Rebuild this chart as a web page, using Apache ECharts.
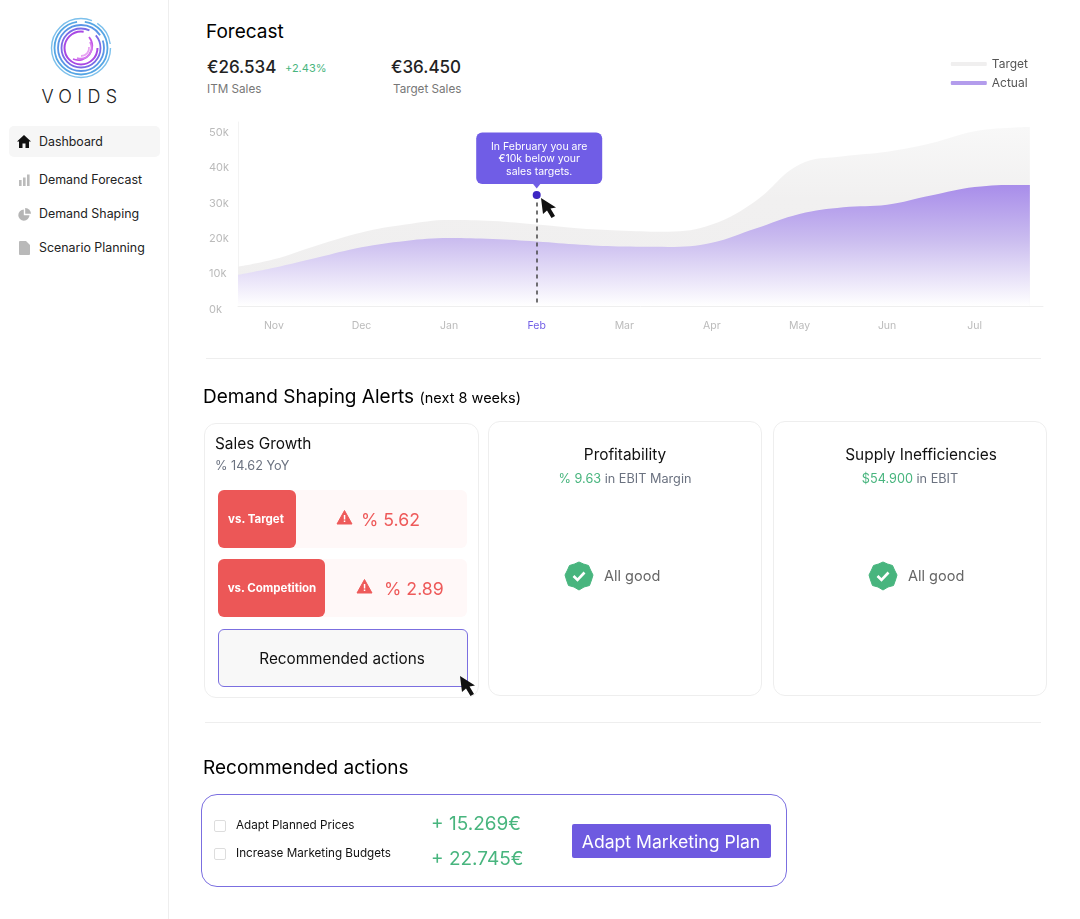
<!DOCTYPE html>
<html>
<head>
<meta charset="utf-8">
<title>Voids dashboard</title>
<script src="https://cdn.jsdelivr.net/npm/echarts@6/dist/echarts.min.js"></script>
<style>
html, body { margin: 0; padding: 0; background: #fff; }
body { width: 1080px; height: 919px; position: relative; overflow: hidden; font-family: Inter, "Noto Sans", sans-serif; color: #111; }
#chart { position: absolute; left: 0; top: 0; width: 1080px; height: 919px; }
.t { position: absolute; white-space: nowrap; transform: translateY(calc(-50% + 1px)); line-height: 1.2; }
.c { transform: translate(-50%, calc(-50% + 1px)); }
.box { position: absolute; box-sizing: border-box; }
.ico { position: absolute; overflow: visible; }
.h1 { font-size: 19px; color: #000; }
.nav { font-size: 12.4px; left: 39px; color: #222; }
.sub { font-size: 12.7px; color: #6b7280; }
.grey { font-size: 11.7px; color: #777; }
.big { font-size: 17px; font-weight: 500; color: #222; }
.card { border: 1px solid #eeeeee; border-radius: 12px; }
.pale { background: #fff8f8; border-radius: 6px; left: 218px; width: 249px; height: 58px; }
.red { background: #ec5757; border-radius: 6px; left: 218px; height: 58px; }
.redt { font-size: 11.5px; font-weight: 700; color: #fff; }
.pct { font-size: 17.7px; color: #ee5a5a; }
.green { color: #48b57e; }
.card-title { font-size: 15.4px; color: #111; }
.good { font-size: 14.5px; color: #666; }
.check { border: 1px solid #ddd; border-radius: 2px; left: 214px; width: 12px; height: 12px; }
.act { font-size: 11.7px; left: 236px; color: #111; }
.gain { font-size: 19px; left: 431px; color: #48b57e; }
</style>
</head>
<body>
<!-- sidebar -->
<div class="box" style="left:168px;top:0;width:1px;height:919px;background:#eeeeee"></div>
<svg class="ico" style="left:46px;top:13px" width="70" height="70" viewBox="-35 -35 70 70" fill="none">
  <circle r="29.5" stroke="#7cc0ec" stroke-width="1.4" stroke-dasharray="150 6 25 4"/>
  <circle r="26.5" stroke="#56a6e4" stroke-width="1.8" stroke-dasharray="120 8"/>
  <circle r="23" stroke="#5a96e6" stroke-width="1.8" stroke-dasharray="130 6"/>
  <circle r="19.5" stroke="#7a6ae6" stroke-width="1.8" stroke-dasharray="100 8"/>
  <circle r="16.5" stroke="#a848e4" stroke-width="2" stroke-dasharray="80 24"/>
  <path d="M8 -11 A14 14 0 0 1 -8 11" stroke="#c155e8" stroke-width="1.8"/>
  <path d="M9 -6 A11 11 0 0 1 -4 10" stroke="#d67cee" stroke-width="1.8"/>
  <path d="M8 -1 A8 8 0 0 1 0 8" stroke="#e8a4f2" stroke-width="1.8"/>
</svg>
<div class="t c" style="left:82px;top:96px;font-size:18px;font-weight:300;letter-spacing:0.3em;color:#222">VOIDS</div>
<div class="box" style="left:9px;top:126px;width:151px;height:31px;background:#f6f6f6;border-radius:5px"></div>
<svg class="ico" style="left:17px;top:135px" width="14" height="13" viewBox="0 0 14 13"><path d="M7 0 L14 6.5 L12 6.5 L12 13 L8.5 13 L8.5 8.5 L5.5 8.5 L5.5 13 L2 13 L2 6.5 L0 6.5 Z" fill="#111"/></svg>
<div class="t nav" style="top:141px">Dashboard</div>
<svg class="ico" style="left:19px;top:174px" width="11" height="12" viewBox="0 0 11 12" fill="#bbb"><rect x="0" y="6" width="2.6" height="6"/><rect x="4" y="3.5" width="2.6" height="8.5"/><rect x="8" y="0.5" width="2.6" height="11.5"/></svg>
<div class="t nav" style="top:179px">Demand Forecast</div>
<svg class="ico" style="left:18px;top:208px" width="13" height="13" viewBox="0 0 13 13" fill="#b5b5b5"><path d="M5.8 1.5 A5.6 5.6 0 1 0 11.5 7.2 L5.8 7.2 Z"/><path d="M7.2 0 A5.6 5.6 0 0 1 13 5.8 L7.2 5.8 Z"/></svg>
<div class="t nav" style="top:213px">Demand Shaping</div>
<svg class="ico" style="left:19px;top:241px" width="11" height="14" viewBox="0 0 11 14" fill="#b9b9b9"><path d="M1 0 L7 0 L11 4 L11 13 Q11 14 10 14 L1 14 Q0 14 0 13 L0 1 Q0 0 1 0 Z"/></svg>
<div class="t nav" style="top:247px">Scenario Planning</div>

<!-- forecast header -->
<div class="t h1" style="left:206px;top:31px">Forecast</div>
<div class="t big" style="left:207px;top:66px">€26.534</div>
<div class="t green" style="left:285px;top:68px;font-size:11px">+2.43%</div>
<div class="t grey" style="left:207px;top:88px">ITM Sales</div>
<div class="t big" style="left:391px;top:66px">€36.450</div>
<div class="t grey" style="left:393px;top:88px">Target Sales</div>
<div class="box" style="left:206px;top:358px;width:835px;height:1px;background:#eeeeee"></div>

<div id="chart"></div>

<!-- alerts -->
<div class="t h1" style="left:203px;top:396px">Demand Shaping Alerts <span style="font-size:14.5px">(next 8 weeks)</span></div>
<div class="box card" style="left:204px;top:423px;width:275px;height:275px"></div>
<div class="box card" style="left:488px;top:421px;width:274px;height:275px"></div>
<div class="box card" style="left:773px;top:421px;width:274px;height:275px"></div>

<div class="t card-title" style="left:215px;top:443px">Sales Growth</div>
<div class="t sub" style="left:215px;top:465px">% 14.62 YoY</div>

<div class="box pale" style="top:490px"></div>
<div class="box red" style="top:490px;width:78px"></div>
<div class="t c redt" style="left:256px;top:519px">vs. Target</div>
<svg class="ico" style="left:337px;top:510px" width="15" height="14" viewBox="0 0 15 14"><path d="M7.5 0.5 L15 14 L0 14 Z" fill="#ee5a5a" stroke="#ee5a5a" stroke-linejoin="round"/><rect x="6.8" y="5" width="1.5" height="4.5" fill="#fff"/><rect x="6.8" y="10.5" width="1.5" height="1.5" fill="#fff"/></svg>
<div class="t pct" style="left:361px;top:519px">% 5.62</div>

<div class="box pale" style="top:559px"></div>
<div class="box red" style="top:559px;width:107px"></div>
<div class="t c redt" style="left:272px;top:588px">vs. Competition</div>
<svg class="ico" style="left:357px;top:579px" width="15" height="14" viewBox="0 0 15 14"><path d="M7.5 0.5 L15 14 L0 14 Z" fill="#ee5a5a" stroke="#ee5a5a" stroke-linejoin="round"/><rect x="6.8" y="5" width="1.5" height="4.5" fill="#fff"/><rect x="6.8" y="10.5" width="1.5" height="1.5" fill="#fff"/></svg>
<div class="t pct" style="left:384px;top:588px">% 2.89</div>

<div class="box" style="left:218px;top:629px;width:250px;height:58px;background:#f8f8f8;border:1px solid #7b6fe0;border-radius:6px"></div>
<div class="t c" style="left:342px;top:658px;font-size:15.3px;color:#111">Recommended actions</div>
<svg class="ico" style="left:460px;top:676px" width="15" height="20" viewBox="0 0 15 20"><path d="M0 0 L2 16 L6 12.5 L10.5 20 L14 18 L9.5 10.5 L15 9.5 Z" fill="#111"/></svg>

<div class="t c card-title" style="left:625px;top:454px">Profitability</div>
<div class="t c sub" style="left:625px;top:478px"><span class="green">% 9.63</span> in EBIT Margin</div>
<svg class="ico" style="left:565px;top:562px" width="28" height="28" viewBox="-14 -14 28 28"><path d="M0 -14 L4.5 -12 L9.5 -10.5 L11.5 -6 L14 -1 L12.5 4 L10.5 9.5 L5 11 L0 14 L-5 11 L-10.5 9.5 L-12.5 4 L-14 -1 L-11.5 -6 L-9.5 -10.5 L-4.5 -12 Z" fill="#48b57e" stroke="#48b57e" stroke-linejoin="round"/><path d="M-5.5 0 L-1.5 4 L5.5 -3.5" fill="none" stroke="#fff" stroke-width="2.6"/></svg>
<div class="t good" style="left:604px;top:575px">All good</div>

<div class="t c card-title" style="left:921px;top:454px">Supply Inefficiencies</div>
<div class="t c sub" style="left:910px;top:478px"><span class="green">$54.900</span> in EBIT</div>
<svg class="ico" style="left:869px;top:562px" width="28" height="28" viewBox="-14 -14 28 28"><path d="M0 -14 L4.5 -12 L9.5 -10.5 L11.5 -6 L14 -1 L12.5 4 L10.5 9.5 L5 11 L0 14 L-5 11 L-10.5 9.5 L-12.5 4 L-14 -1 L-11.5 -6 L-9.5 -10.5 L-4.5 -12 Z" fill="#48b57e" stroke="#48b57e" stroke-linejoin="round"/><path d="M-5.5 0 L-1.5 4 L5.5 -3.5" fill="none" stroke="#fff" stroke-width="2.6"/></svg>
<div class="t good" style="left:908px;top:575px">All good</div>

<!-- recommended actions -->
<div class="box" style="left:205px;top:722px;width:836px;height:1px;background:#eeeeee"></div>
<div class="t h1" style="left:203px;top:767px">Recommended actions</div>
<div class="box" style="left:201px;top:794px;width:586px;height:93px;border:1.3px solid #7b6fe0;border-radius:16px"></div>
<div class="box check" style="top:820px"></div>
<div class="box check" style="top:848px"></div>
<div class="t act" style="top:824px">Adapt Planned Prices</div>
<div class="t act" style="top:852px">Increase Marketing Budgets</div>
<div class="t gain" style="top:823px">+ 15.269€</div>
<div class="t gain" style="top:858px">+ 22.745€</div>
<div class="box" style="left:572px;top:824px;width:199px;height:34px;background:#6e5ae0;border-radius:2px"></div>
<div class="t c" style="left:671px;top:841px;font-size:17.6px;color:#fff">Adapt Marketing Plan</div>

<!-- cursor over the chart -->
<svg class="ico" style="left:541px;top:198px;z-index:5" width="15" height="20" viewBox="0 0 15 20"><path d="M0 0 L2 16 L6 12.5 L10.5 20 L14 18 L9.5 10.5 L15 9.5 Z" fill="#111"/></svg>

<script>
// month labels sit on whole numbers of the x axis, Nov = 0
var months = ['Nov', 'Dec', 'Jan', 'Feb', 'Mar', 'Apr', 'May', 'Jun', 'Jul'];
var yTicks = [0, 10, 20, 30, 40, 50];
var samples = [-0.41, 0, 0.5, 1, 1.5, 2, 2.5, 3, 3.5, 4, 4.5, 5, 5.5, 6, 6.5, 7, 7.5, 8, 8.5, 8.63];
// values in thousands of euro
var target = [11.1, 13.2, 17.2, 20.8, 23.0, 24.3, 24.0, 23.0, 21.9, 21.3, 21.0, 23.0, 29.7, 40.0, 42.3, 43.6, 46.0, 49.4, 50.5, 50.6];
var actual = [8.8, 10.8, 13.7, 16.6, 18.4, 19.2, 18.9, 18.2, 17.3, 16.8, 16.7, 17.9, 21.9, 26.0, 27.9, 28.6, 31.2, 33.6, 34.2, 34.2];
var alertPoint = [3, 31.4];
var alertLine = [1, 30.5];
var alertText = ['In February you are', '€10k below your', 'sales targets.'];

function pairs(xs, ys) {
    return xs.map(function (x, i) { return [x, ys[i]]; });
}

var chart = echarts.init(document.getElementById('chart'));
var font = 'Inter';

chart.setOption({
    animation: false,
    textStyle: { fontFamily: font },
    legend: {
        right: 47,
        top: 53,
        orient: 'vertical',
        itemWidth: 36,
        itemHeight: 4,
        itemGap: 7,
        textStyle: { fontFamily: font, fontSize: 12, color: '#555' },
        data: [
            { name: 'Target', icon: 'roundRect', itemStyle: { color: '#f0efef' } },
            { name: 'Actual', icon: 'roundRect', itemStyle: { color: '#b39cec' } }
        ]
    },
    grid: { left: 238, top: 122, right: 37, bottom: 613 },
    xAxis: {
        type: 'value',
        min: -0.41,
        max: 8.78,
        splitLine: { show: false },
        axisLine: { lineStyle: { color: '#efefef' } },
        axisTick: { show: false },
        axisLabel: {
            customValues: months.map(function (m, i) { return i; }),
            formatter: function (v) { return months[v]; },
            color: function (v) { return months[v] === 'Feb' ? '#705de6' : '#bbbbbb'; },
            fontFamily: font,
            fontSize: 10.5,
            margin: 14
        }
    },
    yAxis: {
        type: 'value',
        min: 0,
        max: 52,
        splitLine: { show: false },
        axisLine: { show: true, onZero: false, lineStyle: { color: '#f3f3f3' } },
        axisTick: { show: false },
        axisLabel: {
            customValues: yTicks,
            formatter: '{value}k',
            color: '#bbbbbb',
            fontFamily: font,
            fontSize: 11,
            align: 'left',
            verticalAlign: 'top',
            lineHeight: 7,
            margin: 29
        }
    },
    series: [{
        name: 'Target',
        type: 'line',
        smooth: 0.4,
        showSymbol: false,
        lineStyle: { width: 0 },
        areaStyle: {
            opacity: 1,
            color: new echarts.graphic.LinearGradient(0, 0, 0, 1, [
                { offset: 0, color: '#f8f8f8' },
                { offset: 0.4, color: '#f1f0f0' },
                { offset: 1, color: '#f0efef' }
            ])
        },
        data: pairs(samples, target)
    }, {
        name: 'Actual',
        type: 'line',
        smooth: 0.4,
        showSymbol: false,
        lineStyle: { width: 0 },
        areaStyle: {
            opacity: 1,
            color: new echarts.graphic.LinearGradient(0, 0, 0, 1, [
                { offset: 0, color: '#a88dea' },
                { offset: 0.45, color: '#cabcef' },
                { offset: 1, color: '#ffffff' }
            ])
        },
        data: pairs(samples, actual)
    }, {
        // small arrow under the tooltip box
        type: 'scatter',
        symbol: 'triangle',
        symbolRotate: 180,
        symbolSize: [8, 5],
        symbolOffset: [0, -9],
        silent: true,
        itemStyle: { color: '#705de6', opacity: 1 },
        data: [alertPoint]
    }, {
        type: 'scatter',
        symbolSize: 8,
        silent: true,
        itemStyle: { color: '#3d26c4', opacity: 1 },
        label: {
            show: true,
            position: 'top',
            distance: 7,
            offset: [2.5, 0],
            formatter: alertText.join('\n'),
            width: 112,
            align: 'center',
            lineHeight: 12.5,
            fontFamily: font,
            fontSize: 10.5,
            color: '#fff',
            backgroundColor: '#705de6',
            borderRadius: 6,
            padding: [8, 7, 6, 7]
        },
        markLine: {
            silent: true,
            symbol: 'none',
            label: { show: false },
            lineStyle: { color: '#444', type: [4, 4], width: 1.5 },
            data: [[{ coord: [alertPoint[0], alertLine[0]] }, { coord: [alertPoint[0], alertLine[1]] }]]
        },
        data: [alertPoint]
    }]
});
</script>
</body>
</html>
